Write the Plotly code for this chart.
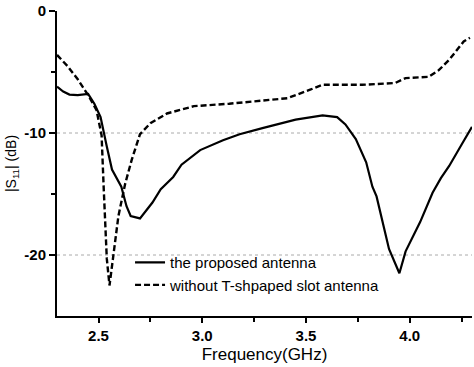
import plotly.graph_objects as go

freq_proposed = [2.30, 2.33, 2.36, 2.40, 2.45, 2.48, 2.51, 2.525, 2.54, 2.565, 2.61, 2.635, 2.655, 2.70,
                 2.76, 2.80, 2.86, 2.90, 2.99, 3.10, 3.18, 3.29, 3.45, 3.58, 3.65, 3.69, 3.74, 3.79,
                 3.82, 3.84, 3.90, 3.95, 3.98, 4.05, 4.11, 4.15, 4.19, 4.255, 4.30]
s11_proposed = [-6.2, -6.6, -6.85, -6.9, -6.8, -7.6, -8.7, -10.0, -11.1, -13.0, -14.4, -16.0, -16.8, -17.0,
                -15.7, -14.6, -13.6, -12.6, -11.4, -10.6, -10.1, -9.6, -8.9, -8.55, -8.7, -9.3, -10.5, -12.4,
                -14.4, -15.2, -19.5, -21.5, -19.7, -17.3, -14.9, -13.7, -12.7, -10.8, -9.5]

freq_without = [2.30, 2.35, 2.40, 2.45, 2.49, 2.515, 2.525, 2.54, 2.553, 2.572, 2.596, 2.628, 2.66, 2.70,
                2.75, 2.83, 2.96, 3.13, 3.32, 3.41, 3.52, 3.58, 3.77, 3.93, 3.98, 4.09, 4.14, 4.19, 4.26, 4.29]
s11_without = [-3.6, -4.5, -5.6, -6.9, -8.1, -10.2, -14.5, -20.3, -22.5, -20.0, -16.8, -14.2, -12.2, -10.1,
               -9.2, -8.4, -7.8, -7.6, -7.3, -7.15, -6.45, -6.05, -6.05, -5.9, -5.5, -5.4, -4.85, -4.0, -2.5, -2.2]

x_tickvals = [2.5, 3.0, 3.5, 4.0]
x_ticktext = ["2.5", "3.0", "3.5", "4.0"]
x_minor = [2.75, 3.25, 3.75, 4.25]
y_tickvals = [-20, -10, 0]
y_ticktext = ["-20", "-10", "0"]
y_minor = [-15, -5]
grid_levels = [-10, -20]

FONT = "Arial, Liberation Sans, sans-serif"

fig = go.Figure()
fig.add_trace(go.Scatter(x=freq_proposed, y=s11_proposed, mode="lines", name="the proposed antenna",
                         line=dict(color="black", width=2.2)))
fig.add_trace(go.Scatter(x=freq_without, y=s11_without, mode="lines", name="without T-shpaped slot antenna",
                         line=dict(color="black", width=2.4, dash="6px,3px")))

for lv in grid_levels:
    fig.add_shape(type="line", xref="paper", x0=0, x1=1, yref="y", y0=lv, y1=lv,
                  line=dict(color="#aaaaaa", width=1, dash="dot"), layer="below")

fig.update_layout(
    width=474, height=367,
    margin=dict(l=57, r=2, t=10.5, b=50.5),
    paper_bgcolor="white", plot_bgcolor="white",
    font=dict(family=FONT, color="black"),
    showlegend=True,
    legend=dict(x=0.176, y=0.229, xanchor="left", yanchor="top", bgcolor="rgba(0,0,0,0)",
                font=dict(size=15, family=FONT), tracegroupgap=0, itemwidth=30),
    xaxis=dict(range=[2.3, 4.3], tickvals=x_tickvals, ticktext=x_ticktext, automargin=False,
               ticklabeloverflow="allow",
               showgrid=False, zeroline=False, showline=True, linecolor="black", linewidth=2,
               ticks="outside", ticklen=5, tickwidth=1.5, tickcolor="black",
               tickfont=dict(size=15, family=FONT, color="black", weight="bold"),
               minor=dict(ticks="outside", tickvals=x_minor, ticklen=4, tickcolor="black", tickwidth=1.5),
               title=dict(text="Frequency(GHz)", font=dict(size=17), standoff=5)),
    yaxis=dict(range=[-25, 0], tickvals=y_tickvals, ticktext=y_ticktext, automargin=False,
               ticklabeloverflow="allow",
               showgrid=False, zeroline=False, showline=True, linecolor="black", linewidth=2,
               ticks="outside", ticklen=6, tickwidth=1.5, tickcolor="black",
               tickfont=dict(size=15, family=FONT, color="black", weight="bold"),
               minor=dict(ticks="outside", tickvals=y_minor, ticklen=4, tickcolor="black", tickwidth=1.5),
               title=dict(text="|S<sub>11</sub>| (dB)", font=dict(size=14), standoff=4)),
)

# remove the page's default 8px body margin so the figure fills the window exactly
fig.write_html("out.html", config={"displayModeBar": False},
               post_script="document.body.style.margin='0';")
